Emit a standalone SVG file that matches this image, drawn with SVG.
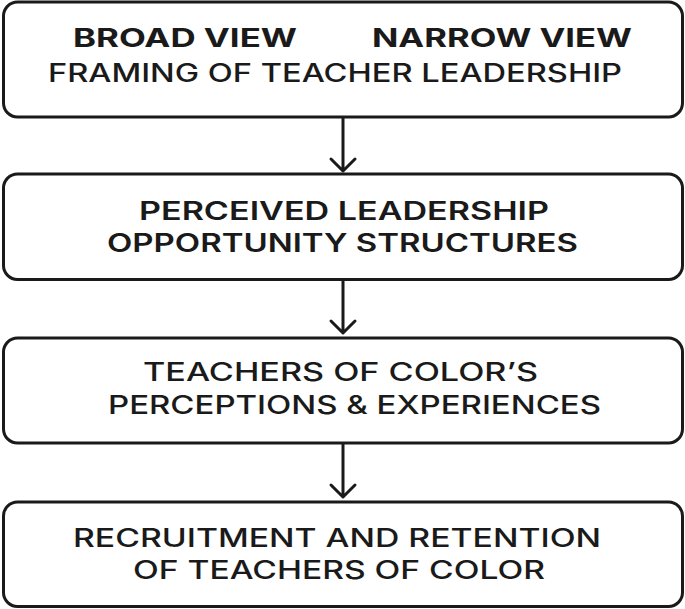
<svg xmlns="http://www.w3.org/2000/svg" width="685" height="609" viewBox="0 0 685 609">
<defs>
<style>
.box{fill:#fff;stroke:#1a1a1a;stroke-width:3}
.t{font-family:Inter,"Liberation Sans",Arial,sans-serif;font-size:25px;fill:#1a1a1a;font-weight:500}
.b{font-weight:700}
.sb{font-weight:600}
.c{fill:none;stroke:#1a1a1a;stroke-width:3;stroke-linecap:round;stroke-linejoin:round}
</style>
</defs>
<rect width="685" height="609" fill="#fff"/>
<g id="connectors">
<path class="c" d="M343 117V171M331 159L343 171L355 159"/>
<path class="c" d="M343 280V333M331 321L343 333L355 321"/>
<path class="c" d="M343 443V497M331 485L343 497L355 485"/>
</g>
<g id="framing">
<rect class="box" x="3.5" y="2" width="679" height="115" rx="14"/>
<text class="t b" x="73" y="47" textLength="224" lengthAdjust="spacingAndGlyphs">BROAD VIEW</text>
<text class="t b" x="372" y="47" textLength="260" lengthAdjust="spacingAndGlyphs">NARROW VIEW</text>
<text class="t" x="48" y="82" textLength="574" lengthAdjust="spacingAndGlyphs">FRAMING OF TEACHER LEADERSHIP</text>
</g>
<g id="opportunity">
<rect class="box" x="3.5" y="174" width="679" height="105.5" rx="14"/>
<text class="t sb" x="139" y="220" textLength="410" lengthAdjust="spacingAndGlyphs">PERCEIVED LEADERSHIP</text>
<text class="t sb" x="107" y="252" textLength="471" lengthAdjust="spacingAndGlyphs">OPPORTUNITY STRUCTURES</text>
</g>
<g id="perceptions">
<rect class="box" x="3.5" y="338" width="679" height="105" rx="14"/>
<text class="t" x="143" y="381" textLength="395" lengthAdjust="spacingAndGlyphs">TEACHERS OF COLOR’S</text>
<text class="t" x="108" y="414" textLength="493" lengthAdjust="spacingAndGlyphs">PERCEPTIONS &amp; EXPERIENCES</text>
</g>
<g id="recruitment">
<rect class="box" x="3.5" y="502" width="679" height="104.5" rx="14"/>
<text class="t" x="73" y="547" textLength="528" lengthAdjust="spacingAndGlyphs">RECRUITMENT AND RETENTION</text>
<text class="t" x="133" y="579" textLength="412" lengthAdjust="spacingAndGlyphs">OF TEACHERS OF COLOR</text>
</g>
</svg>
